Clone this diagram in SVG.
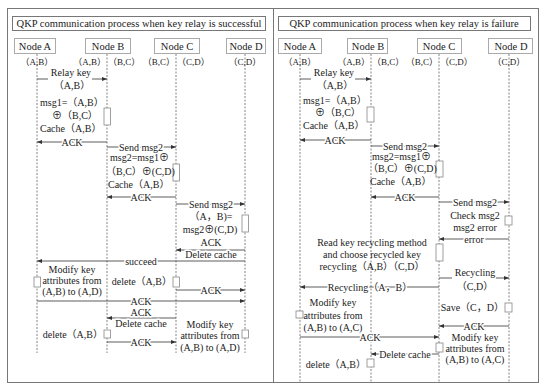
<svg xmlns="http://www.w3.org/2000/svg" width="550" height="392" viewBox="0 0 550 392">
<defs>
<style>
text{font-family:"Liberation Serif","Noto Sans CJK SC",serif;font-size:10px;fill:#222}
.ttl{font-size:10.5px}
.nd{font-size:10.5px}
.k{font-size:9px}
.c{text-anchor:middle}
.e{text-anchor:end}
.lbl{paint-order:stroke;stroke:#fff;stroke-width:3px;stroke-linejoin:round}
.frame{fill:none;stroke:#777;stroke-width:1}
.tbox{fill:#fff;stroke:#777;stroke-width:1}
.nbox{fill:#fff;stroke:#aaa;stroke-width:1}
.life{stroke:#666;stroke-width:0.8;stroke-dasharray:2 1.5;fill:none}
.act{fill:#fff;stroke:#888;stroke-width:0.8}
.ar{stroke:#333;stroke-width:0.8;fill:none}
.arm{stroke:#333;stroke-width:0.8;fill:none;marker-end:url(#ah)}
</style>
<marker id="ah" markerWidth="6" markerHeight="6" refX="5" refY="3" orient="auto" markerUnits="userSpaceOnUse"><path d="M0,0.9 L5,3 L0,5.1 Z" fill="#333"/></marker>
</defs>
<rect width="550" height="392" fill="#fff"/>
<rect class="frame" x="7.5" y="8.5" width="531" height="374"/>
<line class="frame" x1="273.5" y1="8.5" x2="273.5" y2="382.5"/>

<!-- LEFT PANEL -->
<g id="title-left"><rect class="tbox" x="12.5" y="16.5" width="253" height="14"/><text class="ttl c" x="139" y="27">QKP communication process when key relay is successful</text></g>
<g id="L-nodeA"><rect class="nbox" x="14.5" y="38.5" width="41" height="15"/><text class="nd c" x="35" y="50">Node A</text><line class="life" x1="37" y1="54" x2="37" y2="353"/></g>
<g id="L-nodeB"><rect class="nbox" x="85.5" y="38.5" width="45" height="15"/><text class="nd c" x="108" y="50">Node B</text><line class="life" x1="107" y1="54" x2="107" y2="353"/></g>
<g id="L-nodeC"><rect class="nbox" x="154.5" y="38.5" width="45" height="15"/><text class="nd c" x="177" y="50">Node C</text><line class="life" x1="176" y1="54" x2="176" y2="353"/></g>
<g id="L-nodeD"><rect class="nbox" x="226.5" y="38.5" width="39" height="15"/><text class="nd c" x="246" y="50">Node D</text><line class="life" x1="245" y1="54" x2="245" y2="353"/></g>

<g id="L-keys">
<text class="k c" x="37" y="65">（A,B）</text>
<text class="k e" x="106" y="65">（A,B）</text>
<text class="k" x="108" y="65">（B,C）</text>
<text class="k e" x="175" y="65">（B,C）</text>
<text class="k" x="177" y="65">（C,D）</text>
<text class="k c" x="245" y="65">（C,D）</text>
</g>

<g id="L-activations">
<rect class="act" x="104" y="108" width="6.5" height="17"/>
<rect class="act" x="173" y="164" width="6.5" height="17"/>
<rect class="act" x="242" y="215" width="6.5" height="17"/>
<rect class="act" x="34" y="277" width="6.5" height="10"/>
<rect class="act" x="173" y="277" width="6.5" height="10"/>
<rect class="act" x="104" y="330" width="6.5" height="8"/>
<rect class="act" x="242" y="330" width="6.5" height="8"/>
</g>

<g id="L-connectors">
<line class="ar" x1="37" y1="79" x2="48" y2="79"/>
<line class="arm" x1="92" y1="79" x2="107" y2="79"/>
<line class="arm" x1="107" y1="142" x2="37" y2="142"/>
<line class="arm" x1="107" y1="147" x2="176" y2="147"/>
<line class="arm" x1="176" y1="197" x2="107" y2="197"/>
<line class="arm" x1="176" y1="204" x2="245" y2="204"/>
<line class="arm" x1="245" y1="250" x2="176" y2="250"/>
<line class="arm" x1="245" y1="261" x2="37" y2="261"/>
<line class="arm" x1="176" y1="290" x2="245" y2="290"/>
<line class="arm" x1="37" y1="301" x2="245" y2="301"/>
<line class="arm" x1="176" y1="318" x2="107" y2="318"/>
<line class="arm" x1="107" y1="342" x2="176" y2="342"/>
</g>

<g id="L-labels">
<text class="c" x="71" y="76">Relay key</text>
<text class="c" x="72" y="89">（A,B）</text>
<text x="40" y="106">msg1=（A,B）</text>
<text x="52" y="119">⊕（B,C）</text>
<text x="40" y="132">Cache（A,B）</text>
<text class="c lbl" x="72" y="145.5">ACK</text>
<text class="c lbl" x="141" y="150.5">Send msg2</text>
<text x="110" y="161">msg2=msg1⊕</text>
<text x="106" y="175">（B,C）⊕(C,D)</text>
<text x="108" y="188">Cache（A,B）</text>
<text class="c lbl" x="141" y="200.5">ACK</text>
<text class="c lbl" x="211" y="207.5">Send msg2</text>
<text class="c" x="211" y="220">（A，B)=</text>
<text class="c" x="210" y="233">msg2⊕(C,D)</text>
<text class="c lbl" x="211" y="246">ACK</text>
<text class="c lbl" x="211" y="258">Delete cache</text>
<text class="c lbl" x="141" y="264.5">succeed</text>
<text class="c" x="72" y="273">Modify key</text>
<text class="c" x="72" y="284">attributes from</text>
<text class="c" x="72" y="295">(A,B) to (A,D)</text>
<text class="e" x="172" y="285">delete（A,B）</text>
<text class="c lbl" x="211" y="293.5">ACK</text>
<text class="c lbl" x="141" y="304.5">ACK</text>
<text class="c lbl" x="141" y="316">ACK</text>
<text class="c lbl" x="141" y="327">Delete cache</text>
<text class="e" x="103" y="338">delete（A,B）</text>
<text class="c lbl" x="141" y="345.5">ACK</text>
<text class="c" x="210" y="328">Modify key</text>
<text class="c" x="210" y="339">attributes from</text>
<text class="c" x="210" y="351">(A,B) to (A,D)</text>
</g>

<!-- RIGHT PANEL -->
<g id="title-right"><rect class="tbox" x="278.5" y="16.5" width="252" height="14"/><text class="ttl c" x="404" y="27">QKP communication process when key relay is failure</text></g>
<g id="R-nodeA"><rect class="nbox" x="278.5" y="38.5" width="43" height="15"/><text class="nd c" x="300" y="50">Node A</text><line class="life" x1="300" y1="54" x2="300" y2="383"/></g>
<g id="R-nodeB"><rect class="nbox" x="347.5" y="38.5" width="40" height="15"/><text class="nd c" x="368" y="50">Node B</text><line class="life" x1="371" y1="54" x2="371" y2="383"/></g>
<g id="R-nodeC"><rect class="nbox" x="417.5" y="38.5" width="44" height="15"/><text class="nd c" x="439" y="50">Node C</text><line class="life" x1="439" y1="54" x2="439" y2="383"/></g>
<g id="R-nodeD"><rect class="nbox" x="488.5" y="38.5" width="44" height="15"/><text class="nd c" x="511" y="50">Node D</text><line class="life" x1="509" y1="54" x2="509" y2="383"/></g>

<g id="R-keys">
<text class="k c" x="300" y="65">（A,B）</text>
<text class="k e" x="370" y="65">（A,B）</text>
<text class="k" x="372" y="65">（B,C）</text>
<text class="k e" x="438" y="65">（B,C）</text>
<text class="k" x="440" y="65">（C,D）</text>
<text class="k c" x="509" y="65">（C,D）</text>
</g>

<g id="R-activations">
<rect class="act" x="367" y="107" width="7" height="15"/>
<rect class="act" x="436" y="161" width="7" height="16"/>
<rect class="act" x="505" y="216" width="7" height="9"/>
<rect class="act" x="436" y="244" width="7" height="17"/>
<rect class="act" x="296" y="311" width="7" height="7"/>
<rect class="act" x="505" y="303" width="7" height="9"/>
<rect class="act" x="436" y="343" width="7" height="9"/>
<rect class="act" x="367" y="359" width="7" height="8"/>
</g>

<g id="R-connectors">
<line class="ar" x1="300" y1="79" x2="311" y2="79"/>
<line class="arm" x1="355" y1="79" x2="371" y2="79"/>
<line class="arm" x1="371" y1="140" x2="300" y2="140"/>
<line class="arm" x1="371" y1="146" x2="439" y2="146"/>
<line class="arm" x1="439" y1="197" x2="371" y2="197"/>
<line class="arm" x1="439" y1="202" x2="509" y2="202"/>
<line class="arm" x1="509" y1="239" x2="439" y2="239"/>
<line class="ar" x1="439" y1="278" x2="452" y2="278"/>
<line class="arm" x1="496" y1="278" x2="509" y2="278"/>
<line class="arm" x1="439" y1="287" x2="300" y2="287"/>
<line class="arm" x1="509" y1="326" x2="439" y2="326"/>
<line class="arm" x1="300" y1="337" x2="439" y2="337"/>
<line class="arm" x1="439" y1="354" x2="371" y2="354"/>
</g>

<g id="R-labels">
<text class="c" x="334" y="76">Relay key</text>
<text class="c" x="335" y="89">（A,B）</text>
<text x="303" y="104">msg1=（A,B）</text>
<text x="315" y="116">⊕（B,C）</text>
<text x="303" y="129">Cache（A,B）</text>
<text class="c lbl" x="335" y="143.5">ACK</text>
<text class="c lbl" x="405" y="149.5">Send msg2</text>
<text x="372" y="160">msg2=msg1⊕</text>
<text x="368" y="172">（B,C）⊕(C,D)</text>
<text x="370" y="185">Cache（A,B）</text>
<text class="c lbl" x="405" y="200.5">ACK</text>
<text class="c lbl" x="475" y="205.5">Send msg2</text>
<text class="c" x="475" y="219">Check msg2</text>
<text class="c" x="475" y="231">msg2 error</text>
<text class="c lbl" x="474" y="242.5">error</text>
<text class="c" x="372" y="246">Read key recycling method</text>
<text class="c" x="372" y="258">and choose recycled key</text>
<text class="c" x="372" y="270">recycling（A,B）（C,D）</text>
<text class="c" x="475" y="276">Recycling</text>
<text class="c" x="475" y="290">（C,D）</text>
<text class="c lbl" x="370" y="290.5">Recycling（A，B）</text>
<text class="c" x="333" y="306">Modify key</text>
<text class="c" x="333" y="318.5">attributes from</text>
<text class="c" x="333" y="331">(A,B) to (A,C)</text>
<text class="e" x="504" y="311">Save（C，D）</text>
<text class="c lbl" x="474" y="329.5">ACK</text>
<text class="c lbl" x="370" y="340.5">ACK</text>
<text class="c" x="475" y="341">Modify key</text>
<text class="c" x="475" y="352">attributes from</text>
<text class="c" x="475" y="363">(A,B) to (A,C)</text>
<text class="c lbl" x="405" y="357.5">Delete cache</text>
<text class="e" x="366" y="368">delete（A,B）</text>
</g>
</svg>
